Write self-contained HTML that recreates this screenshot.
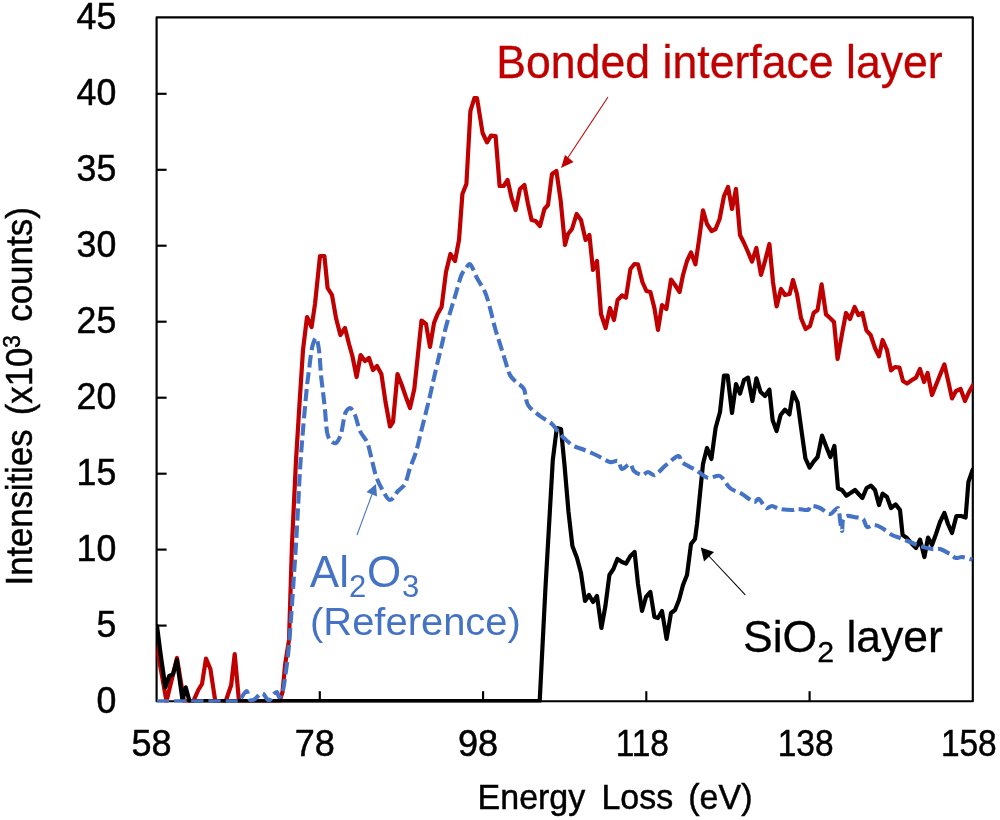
<!DOCTYPE html>
<html lang="en"><head><meta charset="utf-8"><title>EELS spectra</title>
<style>
html,body{margin:0;padding:0;background:#fff;}
body{width:1000px;height:820px;overflow:hidden;}
svg{display:block;filter:blur(0.45px);}
.lbl text{stroke-width:0.3px;}
text{font-family:"Liberation Sans",sans-serif;}
</style></head><body>
<svg width="1000" height="820" viewBox="0 0 1000 820">
<rect width="1000" height="820" fill="#fff"/>
<defs><clipPath id="plot"><rect x="156.6" y="17" width="816.6" height="685.4"/></clipPath></defs>
<g stroke="#000" stroke-width="2.15" fill="none" stroke-linejoin="round">
<rect x="156.6" y="17.4" width="816.2" height="683.8"/>
<line x1="156.6" y1="625.6" x2="166.6" y2="625.6"/><line x1="156.6" y1="549.6" x2="166.6" y2="549.6"/><line x1="156.6" y1="473.7" x2="166.6" y2="473.7"/><line x1="156.6" y1="397.7" x2="166.6" y2="397.7"/><line x1="156.6" y1="321.7" x2="166.6" y2="321.7"/><line x1="156.6" y1="245.7" x2="166.6" y2="245.7"/><line x1="156.6" y1="169.8" x2="166.6" y2="169.8"/><line x1="156.6" y1="93.8" x2="166.6" y2="93.8"/><line x1="319.8" y1="701.2" x2="319.8" y2="691.2"/><line x1="483.1" y1="701.2" x2="483.1" y2="691.2"/><line x1="646.3" y1="701.2" x2="646.3" y2="691.2"/><line x1="809.6" y1="701.2" x2="809.6" y2="691.2"/>
</g>
<g fill="none" stroke-linejoin="round" stroke-linecap="round" stroke-width="4.2" clip-path="url(#plot)">
<polyline stroke="#c00000" points="157,648 166.5,701.2 177,658 184,701.2 193.4,701.2 198.3,690 202,684 206,658.5 210.4,669 215.3,701.2 225.7,701.2 231.2,685 234.7,654 239,701.2 243,701.2 279.6,701.2 282.5,692 285.2,664 289,640 292,544 296,460 300,396 303,350 307,317 311.6,327 315,304 320,256 324.4,256 327.6,288 332,295 336,318 340.4,335 345,328 349,344 352.4,356 356.6,377 360.6,355 365,361 369,358 373,370 377,366 381.4,374 385.5,402 390,426.5 393,422 397.5,374 401.8,385 405.9,397 410,408 414.3,389 417.7,357 421.5,320.5 426,324 430,347 434,323 437.6,314 441.6,307 446,272 450.4,254 455,261 459,240 462.4,194 466.4,184 470.4,111 474.4,98 477,98 482.6,133 487,142.4 491,135.6 495.6,136 499.6,186 503.6,186 507.6,180 511.6,198 515.6,210 520,189 524.4,185 528,204 531.6,220 535.6,221 540,226 544.4,209 548,205 552,174 556.4,171 560.6,200 565,245 568,234 572,229 576.6,214 581,220 585.6,240 589.4,235 593,270 597,261 601,314 605.6,328 610,308 614,320 617.6,300 622,295.5 626,297.5 630.4,269 634.4,264 638,264.4 642.4,282 646.4,291 650.4,292 654.4,308 658,330 662,305 666.4,309 671,279.6 675,285 679.6,292 683,275 687,261 691,252.4 695.4,264.4 699,240 703,210.4 707,224 711.6,231 715.6,229 719.6,219 724,196 728,187 732,209 736,189 740,235 744,243 748,252 752,261.6 756.4,248 761,275 765,261 769.4,244 773,282 776.6,306.4 781,289 785,295 789.6,294 793,280 797,294 801,318 805.6,329 810,326 813.6,313 817.6,310 821.6,284.4 826,314.4 830,318 834,322 837.6,359 842,334 846,313 850,319 854.6,307 858.4,315 862.4,313 866.4,330.4 870.6,335 875,348 879,356.4 882.6,340 887,350 891,370.4 895,367 899.4,367.6 903,381 907,383.6 912,380 916,377.6 920,369 924,382 927.6,373 932,395 936,385 940,375 944.4,364.4 948.4,382 952,398.4 956,391 960.6,389 965,401 969,392 973,385"/>
<polyline stroke="#000" points="157,626 161,657 165.4,687.4 169.2,676 173,674.3 176.9,660 182.4,699.5 185.7,687.4 189.5,701.2 539.7,701.2 545.4,589 552.8,460 556.8,428 561,429 564.5,465 568.5,512 572.4,546 577,558 581,573 585,601 589,595 593,602 597,596 601.4,628 605.4,606 609.4,575 613.4,569 617.4,559 622,562 626,563.6 630.4,556 634.6,552 638,584 642,611 646,597 650.4,592 654.4,617 658,618 662,611 666.6,639 671,613 675,610 679,600 683,585 687,575 691,544 695,539 697,524 699.4,500 703,464 707,448 711.4,459 715.6,428 720,412 724,375.6 727.6,375.6 732,413 736,384 740,393.6 744,380 748,377.6 752.4,401 756.4,378.4 760.6,392 765,396 769.4,389.6 772.6,420 776.6,431 780.6,415 785,409.6 789.4,414.4 793,392.4 797.6,402.4 801.4,430 805.4,458.4 809.6,467.6 813.6,461.6 817.6,457 822,435.6 826,446 830.4,457 834.4,446 838,488.5 842,490 846.4,495.6 850.6,493 855,490 858.6,494 862.4,498 866.6,488 871,485.6 875,490 879,505 882.6,493.6 887,497 891,508 895.6,504.4 900,510 902.6,535 907,538 912,544 916,548 920,539.6 924.4,557 928,537.6 932,545 936,534 940,522 944.4,513 948,524 952,533 956.4,516 961,516 965.6,517.6 968.4,482 972.6,470"/>
<path stroke="#4472c4" stroke-width="4.1" stroke-dasharray="12.3 4.8" stroke-linecap="butt" d="M157,701.2C170.0,701.2 224.7,701.2 238,701.2C238.9,701.2 239.4,700.7 240,700C241.4,698.4 244.9,691.0 246.5,691C248.1,691.0 248.6,698.7 250,700C251.4,701.2 253.4,700.0 255,699C256.6,698.0 258.6,694.8 260,694C261.2,693.3 262.4,693.2 263.5,694C264.6,694.8 266.0,698.0 267,699C267.9,699.9 269.0,700.6 270,700C271.0,699.4 271.9,696.3 273,695C274.1,693.7 276.0,691.7 277,692C278.0,692.3 278.2,696.6 279,697C279.8,697.4 281.5,696.0 282,694.5C283.0,691.5 284.1,684.6 285,678C286.1,670.1 287.9,658.3 289,645C290.8,623.6 294.2,572.0 296,544C297.8,516.0 298.9,488.2 300,470C301.0,454.0 301.9,443.4 303,430C304.1,416.6 306.0,395.6 307,386C307.6,379.6 308.2,376.1 309,370C309.8,363.9 310.9,353.1 312,348C312.9,343.8 314.9,337.7 316,338C317.1,338.3 318.3,345.1 319,350C319.8,355.9 320.4,368.3 321,375C321.6,381.7 322.4,386.4 323,392C323.6,397.6 324.4,403.6 325,410C325.6,416.4 326.2,427.2 327,432C327.6,435.4 328.6,438.2 330,440C331.4,441.8 334.2,444.0 336,443C337.8,442.0 339.8,437.9 341,434C342.4,429.4 343.6,418.2 345,414C346.0,411.0 348.4,407.8 350,408C351.6,408.2 353.6,411.8 355,415C356.6,418.7 358.1,426.7 360,431C361.9,435.3 365.2,438.0 367,442C368.8,446.0 369.6,450.6 371,456C372.4,461.4 374.2,470.7 376,476C377.8,481.3 379.8,485.2 382,489C384.2,492.8 387.4,499.7 390,500C392.6,500.3 395.6,493.6 398,491C400.4,488.4 403.2,487.5 405,484C406.9,480.3 408.2,473.1 410,468C411.8,462.9 414.1,458.6 416,452C418.1,445.0 420.9,432.3 423,424C425.1,415.7 427.3,407.0 429,400C430.7,393.0 432.0,386.6 433.5,380C435.0,373.4 437.0,364.8 438.4,359C439.8,353.2 440.8,348.9 442,344C443.2,339.1 444.2,333.8 445.6,328.3C447.0,322.8 449.3,315.2 451,309.5C452.7,303.8 454.6,297.9 456.2,292.4C457.8,286.9 459.7,279.3 461.3,275.4C462.6,272.1 464.5,269.7 466,268C467.4,266.3 468.7,263.0 470.4,264.5C472.2,266.1 474.7,273.6 477,278C479.3,282.4 482.9,287.2 485,292C487.1,296.8 488.4,302.2 490,308C491.6,313.8 493.4,322.2 495,328C496.6,333.8 498.4,338.9 500,344C501.6,349.1 503.4,355.0 505,360C506.6,365.0 508.2,371.5 510,375C511.6,378.3 513.8,379.8 516,382C518.2,384.2 522.1,385.3 524,389C525.9,392.7 525.4,400.7 528,405C530.6,409.3 536.2,413.0 540,416C543.8,419.0 548.8,421.1 552,424C555.2,426.9 556.8,430.6 560,434C563.2,437.4 568.5,442.6 572,445C575.5,447.4 578.2,447.4 582,449C585.8,450.6 591.5,452.9 596,455C600.5,457.1 606.5,461.0 610,462C613.1,462.8 616.1,459.9 618,461C619.9,462.1 620.1,468.5 622,469C623.9,469.5 628.1,463.7 630,464C631.9,464.3 632.1,469.2 634,471C635.9,472.8 639.8,474.8 642,475C644.2,475.2 645.9,472.0 648,472C650.1,472.0 652.2,476.1 655,475C657.9,473.9 662.3,468.0 666,465C669.7,462.0 675.4,456.5 678,456C680.6,455.5 680.1,460.2 682,462C683.9,463.8 687.8,465.7 690,467C692.2,468.3 693.7,468.6 696,470C698.9,471.8 704.2,477.0 708,478C711.8,479.0 716.5,474.4 720,476C723.5,477.6 726.5,485.1 730,488C733.5,490.9 738.2,491.8 742,494C745.8,496.2 751.3,501.2 754,502C756.2,502.7 757.1,498.0 759,499C760.9,500.0 763.9,506.9 766,508C768.1,509.1 769.8,505.8 772,506C774.2,506.2 776.8,508.4 780,509C783.2,509.6 789.1,510.0 792,510C794.4,510.0 795.6,509.0 798,509C800.6,509.0 805.9,510.5 808,510C809.9,509.6 809.1,506.3 811,506C812.9,505.7 817.0,506.7 820,508C823.0,509.3 827.1,514.0 830,514C832.9,514.0 836.4,507.0 838,508C839.6,509.0 839.4,516.3 840,520C840.6,523.7 841.5,531.0 842,531C842.5,531.0 842.2,522.4 843,520C843.7,517.9 845.2,516.5 847,516C848.8,515.5 851.4,516.5 854,517C856.6,517.5 860.9,517.4 863,519C865.1,520.6 865.2,526.0 867,527C868.8,528.0 871.6,524.8 874,525C876.4,525.2 879.1,526.4 882,528C884.9,529.6 889.1,533.4 892,535C894.9,536.6 897.1,536.9 900,538C902.9,539.1 906.8,540.7 910,542C913.2,543.3 916.5,544.9 920,546C923.5,547.1 928.8,548.5 932,549C935.2,549.5 937.1,548.2 940,549C942.9,549.8 947.4,552.6 950,554C952.5,555.4 954.1,557.5 956,558C957.9,558.5 959.6,556.8 962,557C964.6,557.3 970.8,559.2 972.5,559.6"/>
</g>
<g font-size="34px" fill="#000" stroke="#000" stroke-width="0.5">
<text transform="translate(116.3 713.1) scale(0.965 1)" text-anchor="end" font-size="37px">0</text><text transform="translate(116.3 637.1) scale(0.965 1)" text-anchor="end" font-size="37px">5</text><text transform="translate(116.3 561.1) scale(0.965 1)" text-anchor="end" font-size="37px">10</text><text transform="translate(116.3 485.2) scale(0.965 1)" text-anchor="end" font-size="37px">15</text><text transform="translate(116.3 409.2) scale(0.965 1)" text-anchor="end" font-size="37px">20</text><text transform="translate(116.3 333.2) scale(0.965 1)" text-anchor="end" font-size="37px">25</text><text transform="translate(116.3 257.2) scale(0.965 1)" text-anchor="end" font-size="37px">30</text><text transform="translate(116.3 181.3) scale(0.965 1)" text-anchor="end" font-size="37px">35</text><text transform="translate(116.3 105.3) scale(0.965 1)" text-anchor="end" font-size="37px">40</text><text transform="translate(116.3 29.3) scale(0.965 1)" text-anchor="end" font-size="37px">45</text>
<text transform="translate(151.5 755.7) scale(0.975 1)" text-anchor="middle" font-size="37px">58</text><text transform="translate(314.7 755.7) scale(0.975 1)" text-anchor="middle" font-size="37px">78</text><text transform="translate(478.0 755.7) scale(0.975 1)" text-anchor="middle" font-size="37px">98</text><text transform="translate(642.3 755.7) scale(0.905 1)" text-anchor="middle" font-size="37px">118</text><text transform="translate(805.6 755.7) scale(0.905 1)" text-anchor="middle" font-size="37px">138</text><text transform="translate(968.8 755.7) scale(0.905 1)" text-anchor="middle" font-size="37px">158</text>
<g font-size="36px">
<text transform="translate(477.6 809.3) scale(0.944 1)">Energy</text>
<text transform="translate(601.4 809.3) scale(0.944 1)">Loss</text>
<text transform="translate(688.3 809.3) scale(0.944 1)">(eV)</text>
</g>
<g transform="translate(31.7 583) rotate(-90)" font-size="37.7px">
<text transform="translate(-2.5 0) scale(0.92 1)">Intensities</text>
<text transform="translate(167.8 0) scale(0.92 1)">(x10<tspan font-size="24.4px" dy="-12">3</tspan></text>
<text transform="translate(261.2 0) scale(0.927 1)">counts)</text>
</g>
</g>
<g font-size="44px" class="lbl">
<text transform="translate(496.3 77.8) scale(0.983 1)" fill="#c00000" stroke="#c00000" font-size="45.4px">Bonded interface layer</text>
<text transform="translate(309.8 587) scale(1.0 1)" fill="#4472c4">Al<tspan font-size="31px" dy="9.6">2</tspan><tspan dy="-9.6" dx="0.8">O</tspan><tspan font-size="31px" dy="9.6" dx="0.8">3</tspan></text>
<text transform="translate(310 635) scale(1.024 1)" fill="#4472c4" font-size="39px">(Reference)</text>
<text transform="translate(743 651.5) scale(1.012 1)" fill="#000" stroke="#000">SiO<tspan font-size="30px" dy="10">2</tspan><tspan dy="-10"> layer</tspan></text>
</g>
<g stroke-width="1.05">
<line x1="608" y1="97" x2="566" y2="160.5" stroke="#c00000"/>
<polygon points="561,168 565,155 573.6,162" fill="#c00000"/>
<line x1="357" y1="535" x2="372.5" y2="493" stroke="#4472c4"/>
<polygon points="376,484 366.5,492 377,496.5" fill="#4472c4"/>
<line x1="745.3" y1="594.8" x2="707" y2="554" stroke="#000"/>
<polygon points="700.8,547.5 704,561.5 714,552" fill="#000"/>
</g>
</svg>
</body></html>
